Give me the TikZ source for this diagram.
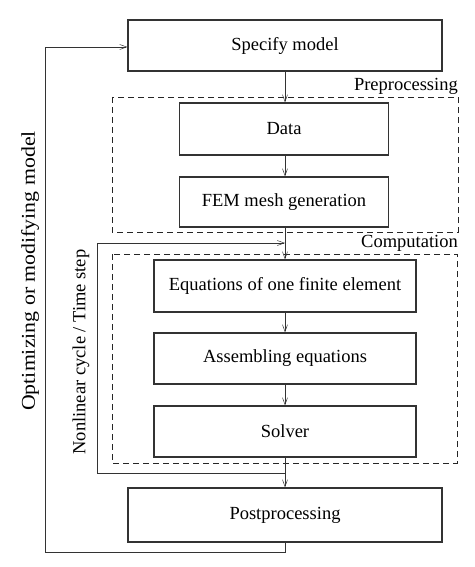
\documentclass[tikz,border=0pt]{standalone}
\usepackage{fontspec}
\setmainfont{Liberation Serif}
\usetikzlibrary{arrows.meta}
\begin{document}
\begin{tikzpicture}[x=1pt,y=-1pt,
  box/.style={draw=black!80,line width=1.1pt,inner sep=0pt,
    font=\fontsize{18.5}{21}\selectfont},
  dbox/.style={draw=black!85,line width=0.9pt,dash pattern=on 6pt off 4pt},
  lbl/.style={font=\fontsize{18.5}{21}\selectfont,inner sep=0pt},
  line/.style={draw=black!80,line width=0.9pt},
  arr/.style={line,-{Straight Barb[length=7pt,width=5pt,line width=0.5pt]}}]
\useasboundingbox (0,0) rectangle (474,567);
\fill[white] (0,0) rectangle (474,567);
% dashed groups
\draw[dbox] (112,97) rectangle (458,232);
\draw[dbox] (112,254) rectangle (457,463);
\node[lbl,anchor=east] (prel) at (458,86) {Preprocessing};
\node[lbl,anchor=east] (compl) at (458,243) {Computation};
% boxes
\node[box,minimum width=314pt,minimum height=51pt] (spec) at (285,45.5) {Specify model};
\node[box,minimum width=209pt,minimum height=52pt] (data) at (284,129) {Data};
\node[box,minimum width=209pt,minimum height=50pt] (fem) at (284,202) {FEM mesh generation};
\node[box,minimum width=262pt,minimum height=52pt] (eq) at (285,286) {Equations of one finite element};
\node[box,minimum width=262pt,minimum height=51pt] (asm) at (285,358.5) {Assembling equations};
\node[box,minimum width=262pt,minimum height=51pt] (sol) at (285,431.5) {Solver};
\node[box,minimum width=314pt,minimum height=54pt] (post) at (285,515) {Postprocessing};
% coordinates
\coordinate (spectop) at (285,71);
\coordinate (j1) at (285,243);
\coordinate (j2) at (285,473);
\coordinate (a1) at (97,473);
\coordinate (a2) at (97,243);
\coordinate (b0) at (285,552);
\coordinate (b1) at (45,552);
\coordinate (b2) at (45,47);
\coordinate (b3) at (128,47);
% vertical flow
\draw[arr] (spec.south -| spectop) -- (data.north -| spectop);
\draw[arr] (data.south -| spectop) -- (fem.north -| spectop);
\draw[arr] (fem.south -| spectop) -- (eq.north -| spectop);
\draw[arr] (eq.south) -- (asm.north);
\draw[arr] (asm.south) -- (sol.north);
\draw[arr] (sol.south) -- (post.north);
% inner loop
\draw[arr] (j2) -- (a1) -- (a2) -- (j1);
% outer loop
\draw[arr] (post.south) -- (b0) -- (b1) -- (b2) -- (b3 -| spec.west);
% rotated labels
\node[lbl,rotate=90,xscale=1.12,font=\fontsize{19.5}{22}\selectfont] (optl) at (30,271) {Optimizing or modifying model};
\node[lbl,rotate=90] (nonl) at (81,352) {Nonlinear cycle / Time step};
\end{tikzpicture}
\end{document}
